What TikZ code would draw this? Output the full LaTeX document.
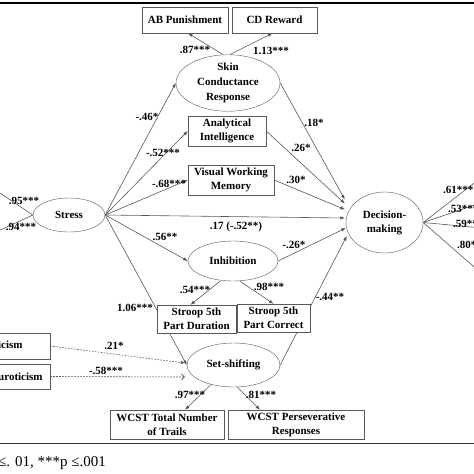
\documentclass[tikz,border=0pt]{standalone}
\usepackage{fontspec}
\setmainfont{Liberation Serif}
\usetikzlibrary{shapes.geometric,arrows.meta,backgrounds}

\tikzset{
  lat/.style={ellipse,draw=black!65,fill=white,align=center,inner sep=0pt,font=\fontsize{11}{14}\bfseries},
  obs/.style={rectangle,draw=black!65,fill=white,align=center,inner sep=0pt,font=\fontsize{11}{14}\bfseries},
  lbl/.style={inner sep=0pt,font=\fontsize{11}{13}\bfseries},
  arr/.style={draw=black!65,line width=0.6pt,-{Latex[length=4.5pt,width=3.5pt]}},
  dots/.style={draw=black!65,line width=0.6pt,dash pattern=on 1.6pt off 1.4pt}
}

\begin{document}
\begin{tikzpicture}[x=1pt,y=-1pt]
    \useasboundingbox (0,0) rectangle (474,474);
    \clip (0,0) rectangle (474,474);

    \node[obs,minimum width=86pt,minimum height=26pt] (abp) at (185,20) {AB Punishment};
    \node[obs,minimum width=85pt,minimum height=26pt] (cdr) at (274.5,20) {CD Reward};
    \node[lat,minimum width=104pt,minimum height=52pt,font=\fontsize{11}{15}\bfseries] (scr) at (228,83) {Skin\\Conductance\\Response};
    \node[obs,minimum width=78pt,minimum height=30pt] (ai) at (227,131) {Analytical\\Intelligence};
    \node[obs,minimum width=86pt,minimum height=30pt] (vwm) at (231,180) {Visual Working\\Memory};

    \node[lat,minimum width=72pt,minimum height=34pt] (stress) at (69,215) {Stress};
    \node[lat,minimum width=77pt,minimum height=61pt] (dm) at (384.5,222.5) {Decision-\\making};
    \node[lat,minimum width=90pt,minimum height=40pt] (inh) at (233,261) {Inhibition};

    \node[obs,minimum width=79pt,minimum height=28pt] (sd) at (196.5,319) {Stroop 5th\\Part Duration};
    \node[obs,minimum width=73pt,minimum height=28pt] (sc) at (273.5,318) {Stroop 5th\\Part Correct};
    \node[lat,minimum width=93pt,minimum height=44pt] (set) at (233.5,365) {Set-shifting};

    \node[obs,minimum width=116pt,minimum height=26pt] (psy) at (-8,346) {Psychoticism};
    \node[obs,minimum width=72pt,minimum height=25pt] (neu) at (14,376.5) {Neuroticism};
    \node[obs,minimum width=114pt,minimum height=29pt] (wtot) at (167,424.5) {WCST Total Number\\of Trails};
    \node[obs,minimum width=136pt,minimum height=29pt] (wper) at (296,424.5) {WCST Perseverative\\Responses};

    \coordinate (ind1) at (-30,173);
    \coordinate (ind2) at (-30,244);
    \coordinate (dm1) at (504,160);
    \coordinate (dm2) at (504,195);
    \coordinate (dm3) at (504,230);
    \coordinate (dm4) at (504,293);

    \begin{scope}[on background layer]
    \fill[white] (0,0) rectangle (474,474);

    \draw[arr] ([xshift=-5pt]scr.north) -- ([xshift=3pt]abp.south);
    \draw[arr] ([xshift=2pt]scr.north) -- ([xshift=-2pt]cdr.south);

    \draw[arr] (stress.west) -- (ind1);
    \draw[arr] (stress.west) -- (ind2);
    \draw[arr] (stress.east) -- (scr.west);
    \draw[arr] (stress.east) -- (ai.west);
    \draw[arr] (stress.east) -- (vwm.west);
    \draw[arr] (stress.east) -- ([yshift=4.5pt,xshift=-1pt]dm.west);
    \draw[arr] (stress.east) -- (inh.west);
    \draw[arr] (stress.east) -- (set.west);

    \draw[arr] (scr.east) -- ([yshift=23pt,xshift=-1pt]dm.west);
    \draw[arr] (ai.east) -- ([yshift=19pt,xshift=-1pt]dm.west);
    \draw[arr] (vwm.east) -- ([yshift=13pt,xshift=-1pt]dm.west);
    \draw[arr] (inh.east) -- ([yshift=-5.5pt]dm.west);
    \draw[arr] (set.east) -- ([yshift=-13.5pt,xshift=1pt]dm.west);

    \draw[arr] ([xshift=-13pt]inh.south) -- ([xshift=-6pt]sd.north);
    \draw[arr] ([xshift=7pt]inh.south) -- (sc.north);
    \draw[arr] (set.221) -- ([xshift=18pt]wtot.north);
    \draw[arr] ([xshift=4pt]set.south) -- ([xshift=-36pt]wper.north);

    \draw[dots,-{Latex[length=4pt,width=3.5pt]}] (psy.east) -- ([yshift=2pt,xshift=-2pt]set.west);
    \draw[dots,-{Straight Barb[length=3pt,width=6pt]}] (neu.east) -- ([yshift=-12pt,xshift=-2pt]set.west);

    \draw[arr] (dm.east) -- (dm1);
    \draw[arr] (dm.east) -- (dm2);
    \draw[arr] (dm.east) -- (dm3);
    \draw[arr] (dm.east) -- (dm4);
    \end{scope}

    \node[lbl] (l87) at (195,50) {.87***};
    \node[lbl] (l113) at (271,51) {1.13***};
    \node[lbl] (l46) at (147,117) {-.46*};
    \node[lbl] (l52) at (163,153) {-.52***};
    \node[lbl] (l68) at (169,184) {-.68***};
    \node[lbl] (l18) at (314,123) {.18*};
    \node[lbl] (l26a) at (301,148) {.26*};
    \node[lbl] (l30) at (296,180) {.30*};
    \node[lbl] (l17) at (236,227) {.17 (-.52**)};
    \node[lbl] (l56) at (165,237) {.56**};
    \node[lbl] (l26b) at (294,245) {-.26*};
    \node[lbl] (l54) at (195,290) {.54***};
    \node[lbl] (l98) at (269,287) {.98***};
    \node[lbl] (l106) at (135,308) {1.06***};
    \node[lbl] (l44) at (330,297) {-.44**};
    \node[lbl] (l21) at (114,346) {.21*};
    \node[lbl] (l58) at (106,371) {-.58***};
    \node[lbl] (l97) at (190,395) {.97***};
    \node[lbl] (l81) at (261,395) {.81***};
    \node[lbl] (l95) at (24,201) {.95***};
    \node[lbl] (l94) at (21,227) {.94***};
    \node[lbl,anchor=west] (l61) at (443,190) {.61***};
    \node[lbl,anchor=west] (l53) at (448,209) {.53***};
    \node[lbl,anchor=west] (l59) at (453,224) {.59***};
    \node[lbl,anchor=west] (l80) at (457,245) {.80***};

    \draw[line width=2pt] (0,3) -- (474,3);
    \draw[line width=1.8pt,black!80] (0,443.5) -- (474,443.5);
    \node[anchor=base east,inner sep=0pt,font=\fontsize{15}{17}\selectfont] (note) at (106,466) {*p ≤ .05, **p ≤. 01, ***p ≤.001};
\end{tikzpicture}
\end{document}
